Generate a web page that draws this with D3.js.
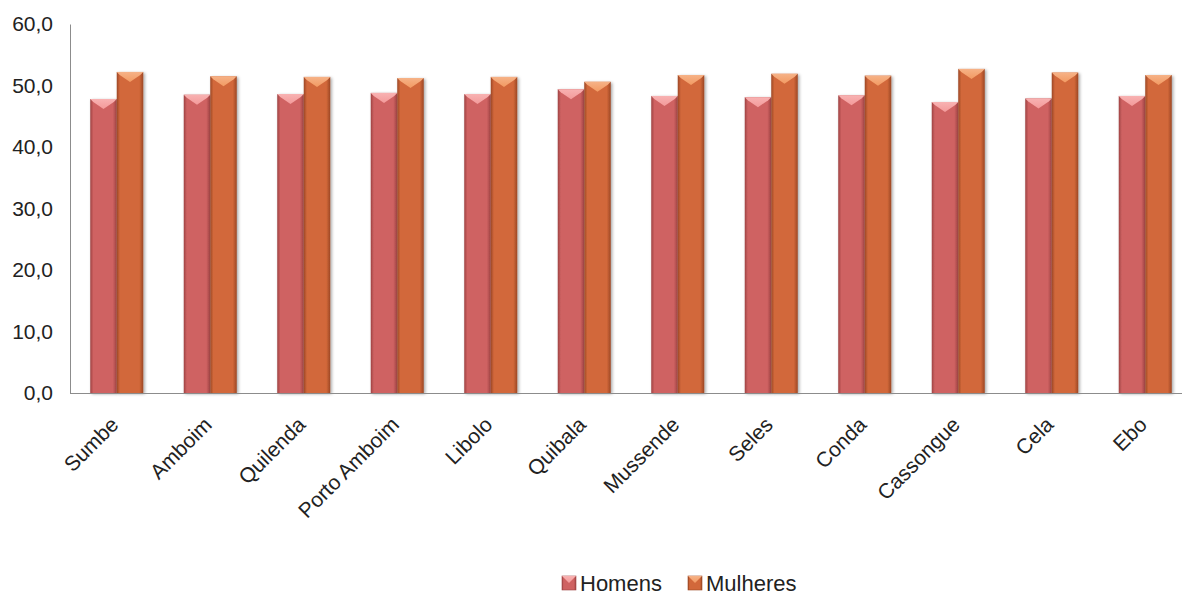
<!DOCTYPE html>
<html>
<head>
<meta charset="utf-8">
<script src="https://cdn.jsdelivr.net/npm/d3@7/dist/d3.min.js"></script>
<style>
  html, body { margin: 0; padding: 0; background: #fff; }
  svg { display: block; font-family: "Liberation Sans", Arial, sans-serif; }
</style>
</head>
<body>
<svg id="chart" width="1182" height="595"></svg>
<script>
const categories = ["Sumbe", "Amboim", "Quilenda", "Porto Amboim", "Libolo", "Quibala", "Mussende", "Seles", "Conda", "Cassongue", "Cela", "Ebo"];
const homens   = [47.8, 48.5, 48.6, 48.8, 48.6, 49.4, 48.3, 48.1, 48.4, 47.3, 47.9, 48.3];
const mulheres = [52.2, 51.5, 51.4, 51.2, 51.4, 50.6, 51.7, 51.9, 51.6, 52.7, 52.1, 51.7];
const seriesNames = ["Homens", "Mulheres"];
const yTicks = [0, 10, 20, 30, 40, 50, 60];

const svg = d3.select("#chart");
const W = 1182, H = 595;
const plot = { left: 70, right: 1192, top: 24, bottom: 393 };

const x0 = d3.scaleBand().domain(categories).range([plot.left, plot.right])
  .paddingInner(0.433).paddingOuter(0.2165);
const x1 = d3.scaleBand().domain(seriesNames).range([0, x0.bandwidth()]);
const y = d3.scaleLinear().domain([0, 60]).range([plot.bottom, plot.top]);

const palette = {
  Homens:   { base: "#cf6262", dark: "#9e4343", light: "#f39a9a", lighter: "#f8b2b2" },
  Mulheres: { base: "#d2683a", dark: "#9c4724", light: "#f29a62", lighter: "#f6b287" }
};

const defs = svg.append("defs");
const shadow = defs.append("filter").attr("id", "shadow").attr("x", "-30%").attr("y", "-10%").attr("width", "160%").attr("height", "130%");
shadow.append("feDropShadow").attr("dx", 1.5).attr("dy", 1).attr("stdDeviation", 1.6)
  .attr("flood-color", "#000").attr("flood-opacity", 0.35);

seriesNames.forEach(s => {
  const c = palette[s];
  const g = defs.append("linearGradient").attr("id", "side-" + s).attr("x1", 0).attr("x2", 1).attr("y1", 0).attr("y2", 0);
  g.append("stop").attr("offset", "0%").attr("stop-color", c.dark);
  g.append("stop").attr("offset", "12%").attr("stop-color", c.base);
  g.append("stop").attr("offset", "85%").attr("stop-color", c.base);
  g.append("stop").attr("offset", "100%").attr("stop-color", c.dark);
  const t = defs.append("linearGradient").attr("id", "top-" + s).attr("x1", 0).attr("x2", 0).attr("y1", 0).attr("y2", 1);
  t.append("stop").attr("offset", "0%").attr("stop-color", c.lighter);
  t.append("stop").attr("offset", "100%").attr("stop-color", c.light);
});

// Axes
const yAxis = d3.axisLeft(y).tickValues(yTicks).tickSize(0).tickPadding(17)
  .tickFormat(d => d3.format(".1f")(d).replace(".", ","));
const gy = svg.append("g").attr("transform", `translate(${plot.left},0)`).call(yAxis);
gy.select(".domain").attr("stroke", "#8c8c8c").attr("stroke-width", 1);
gy.selectAll("text").attr("font-size", 21).attr("fill", "#222")
  .attr("font-family", "'Liberation Sans', Arial, sans-serif");

const data = categories.map((c, i) => ({ cat: c, values: [
  { key: "Homens", value: homens[i] },
  { key: "Mulheres", value: mulheres[i] }
]}));

const groups = svg.append("g").selectAll("g").data(data).join("g")
  .attr("transform", d => `translate(${x0(d.cat)},0)`);

const bars = groups.selectAll("g.bar").data(d => d.values).join("g").attr("class", "bar");
const bw = x1.bandwidth();
bars.append("rect")
  .attr("x", d => x1(d.key))
  .attr("y", d => y(d.value))
  .attr("width", bw)
  .attr("height", d => y(0) - y(d.value))
  .attr("fill", d => `url(#side-${d.key})`)
  .attr("filter", "url(#shadow)");
bars.append("path")
  .attr("d", d => {
    const xa = x1(d.key), xb = xa + bw, t = y(d.value), cx = xa + bw / 2;
    return `M${xa},${t} L${xb},${t} L${xb - 3},${t + 3} L${cx},${t + 10} L${xa + 3},${t + 3} Z`;
  })
  .attr("fill", d => `url(#top-${d.key})`);

// x baseline
svg.append("line").attr("x1", plot.left).attr("x2", W).attr("y1", y(0) + 0.5).attr("y2", y(0) + 0.5)
  .attr("stroke", "#8c8c8c").attr("stroke-width", 1);

// x labels
svg.append("g").selectAll("text").data(categories).join("text")
  .attr("transform", d => `translate(${x0(d) + x0.bandwidth() / 2 + 3},${plot.bottom + 33}) rotate(-45)`)
  .attr("text-anchor", "end")
  .attr("font-size", 21)
  .attr("fill", "#222")
  .text(d => d);

// Legend
const legend = svg.append("g");
const legendItems = [{ key: "Homens", x: 562 }, { key: "Mulheres", x: 688 }];
const li = legend.selectAll("g").data(legendItems).join("g")
  .attr("transform", d => `translate(${d.x},583)`);
li.append("rect").attr("x", 0).attr("y", -7).attr("width", 14).attr("height", 14)
  .attr("fill", d => `url(#side-${d.key})`).attr("stroke", d => palette[d.key].dark).attr("stroke-width", 0.6);
li.append("path").attr("d", "M0,-7 L14,-7 L11,-4 L7,0 L3,-4 Z").attr("fill", d => `url(#top-${d.key})`);
li.append("text").attr("x", 18).attr("y", 8).attr("font-size", 22).attr("fill", "#222").text(d => d.key);
</script>
</body>
</html>
